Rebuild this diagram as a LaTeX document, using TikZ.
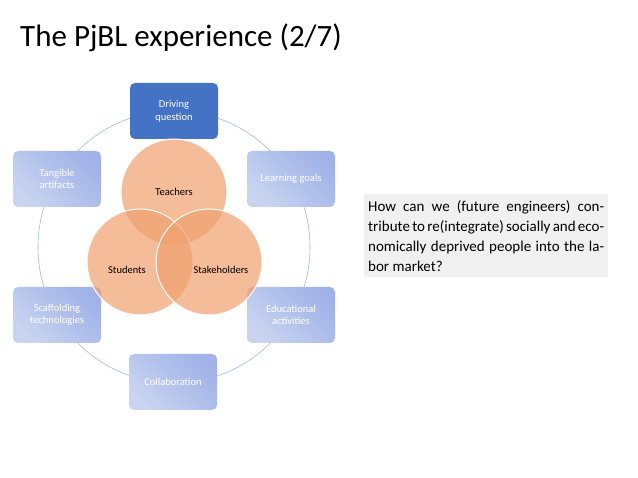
\documentclass[tikz,border=0pt]{standalone}
\usepackage{fontspec}
\setmainfont{Carlito}
\definecolor{bxa}{RGB}{200,212,240}
\definecolor{bxb}{RGB}{160,178,232}
\definecolor{ven}{RGB}{240,160,110}
\begin{document}
\begin{tikzpicture}[x=1pt,y=-1pt,
  box/.style={rounded corners=5pt,minimum width=88pt,minimum height=56pt,inner sep=2pt,align=center,text=white,font=\fontsize{10.5}{12.5}\selectfont,top color=bxa,bottom color=bxb,shading angle=135,draw=none},
  venn/.style={circle,minimum size=106pt,fill=ven,fill opacity=0.7,draw=white,draw opacity=1,line width=1pt},
  lab/.style={font=\fontsize{10.5}{12}\selectfont}]
\useasboundingbox (0,0) rectangle (638,478);
\fill[white] (0,0) rectangle (638,478);
\node[anchor=base west,font=\fontsize{31}{35}\selectfont,inner sep=0pt] (title) at (20,47) {The PjBL experience (2/7)};
\node[circle,minimum size=272pt,draw={rgb,255:red,160;green,185;blue,220},line width=0.6pt] (ring) at (174,247) {};
\node[box] (tan) at (57,179) {Tangible\\artifacts};
\node[box] (sca) at (57,315) {Scaffolding\\technologies};
\node[box] (lg) at (291,179) {Learning goals};
\node[box] (ed) at (291,315) {Educational\\activities};
\node[box] (col) at (173,382) {Collaboration};
\node[box,top color={rgb,255:red,68;green,114;blue,196},bottom color={rgb,255:red,68;green,114;blue,196}] (dq) at (174,111) {Driving\\question};
\node[venn] (te) at (174,192) {};
\node[venn] (st) at (140,262) {};
\node[venn] (sh) at (209,262) {};
\node[lab] (tet) at (174,192) {Teachers};
\node[lab] (stt) at (127,270) {Students};
\node[lab] (sht) at (221,270) {Stakeholders};
\node[fill=gray!12,minimum width=244pt,minimum height=83pt,anchor=north west,inner sep=0pt] (qb) at (364,194) {};
\node[text width=236pt,align=justify,font=\fontsize{15}{20}\selectfont] (q) at (qb.center) {How can we (future engineers) contribute to re(integrate) socially and economically deprived people into the labor market?};
\end{tikzpicture}
\end{document}
